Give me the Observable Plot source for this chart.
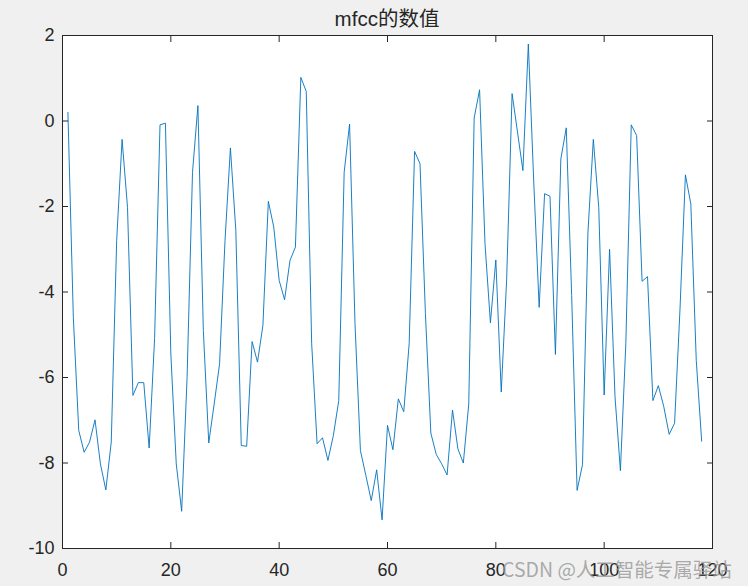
<!DOCTYPE html>
<html>
<head>
<meta charset="utf-8">
<script src="https://cdn.jsdelivr.net/npm/d3@7"></script>
<script src="https://cdn.jsdelivr.net/npm/@observablehq/plot@0.6"></script>
<style>
  html, body { margin: 0; padding: 0; }
  body { background: #f0f0f0; width: 748px; height: 586px; overflow: hidden; position: relative;
         font-family: "Liberation Sans", Arial, "Noto Sans CJK SC", sans-serif; }
  #chart { position: absolute; left: 0; top: 0; }
  #title { position: absolute; left: 62px; width: 650px; top: 6px; height: 26px; line-height: 26px;
           text-align: center; font-size: 20.5px; color: #262626;
           font-family: "Liberation Sans", Arial, "Noto Sans CJK SC", sans-serif; }
  #wm { position: absolute; left: 502px; top: 554px; font-size: 19.5px; white-space: nowrap;
        color: rgba(150,150,150,0.8); font-family: "Noto Sans CJK SC", sans-serif; }
</style>
</head>
<body>
<div id="chart"></div>
<div id="title">mfcc的数值</div>
<div id="wm">CSDN @人工智能专属驿站</div>
<script>
// MFCC values (plotted against sample index 1..N, as MATLAB plot(y) does)
const mfcc = [
  0.2, -4.6, -7.24, -7.75, -7.51, -6.99, -8.02, -8.63, -7.51, -2.8,
  -0.43, -2.02, -6.42, -6.12, -6.12, -7.65, -5.09, -0.09, -0.05, -5.45,
  -8.02, -9.13, -6.0, -1.2, 0.36, -4.9, -7.53, -6.62, -5.68, -2.8,
  -0.63, -2.56, -7.59, -7.61, -5.16, -5.64, -4.78, -1.88, -2.48, -3.73,
  -4.18, -3.26, -2.95, 1.02, 0.69, -5.2, -7.55, -7.41, -7.94, -7.36,
  -6.54, -1.2, -0.07, -4.74, -7.71, -8.29, -8.88, -8.16, -9.33, -7.12,
  -7.69, -6.5, -6.8, -5.21, -0.71, -1.0, -4.5, -7.3, -7.8, -8.02,
  -8.28, -6.76, -7.67, -8.0, -6.62, 0.07, 0.73, -2.87, -4.72, -3.25,
  -6.34, -3.7, 0.64, -0.26, -1.16, 1.8, -1.43, -4.36, -1.7, -1.76,
  -5.46, -0.89, -0.16, -4.08, -8.64, -8.04, -2.62, -0.43, -2.02, -6.41,
  -3.0, -6.45, -8.18, -5.2, -0.09, -0.34, -3.75, -3.64, -6.54, -6.19,
  -6.68, -7.33, -7.07, -4.4, -1.26, -1.94, -5.6, -7.49
];
const xTicks = [0, 20, 40, 60, 80, 100, 120];
const yTicks = [-10, -8, -6, -4, -2, 0, 2];
const xDomain = [0, 120];
const yDomain = [-10, 2];

const chart = Plot.plot({
  width: 748,
  height: 586,
  marginLeft: 62,
  marginRight: 36,
  marginTop: 35,
  marginBottom: 38,
  style: {
    background: "transparent",
    color: "#262626",
    fontFamily: "'Liberation Sans', Arial, sans-serif",
    fontSize: "18px",
    overflow: "visible"
  },
  x: {domain: xDomain},
  y: {domain: yDomain},
  marks: [
    Plot.frame({fill: "white", stroke: "none"}),
    Plot.line(mfcc, {x: (d, i) => i + 1, y: d => d, stroke: "#0072BD", strokeWidth: 0.9}),
    Plot.frame({stroke: "#262626", strokeWidth: 1}),
    Plot.axisX(xTicks, {anchor: "bottom", tickSize: -6, tickPadding: 21, tickFormat: d => String(d), label: null}),
    Plot.axisX(xTicks, {anchor: "top", tickSize: -6, tickFormat: () => "", label: null}),
    Plot.axisY(yTicks, {anchor: "left", tickSize: -6, tickPadding: 14, tickFormat: d => String(d), label: null}),
    Plot.axisY(yTicks, {anchor: "right", tickSize: -6, tickFormat: () => "", label: null})
  ]
});
document.getElementById("chart").appendChild(chart);
</script>
</body>
</html>
